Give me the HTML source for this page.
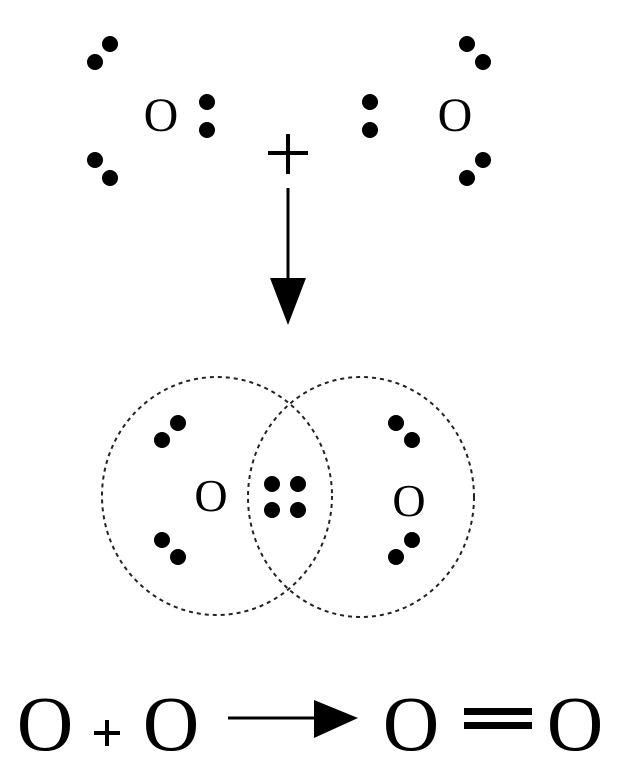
<!DOCTYPE html>
<html><head><meta charset="utf-8"><style>body{margin:0;background:#fff} text{font-family:"Liberation Serif","DejaVu Serif","Times New Roman",serif}</style></head>
<body>
<svg width="640" height="773" viewBox="0 0 640 773" xmlns="http://www.w3.org/2000/svg" fill="#000">
<g>
<circle cx="110" cy="44" r="8"/><circle cx="95" cy="62" r="8"/>
<circle cx="95" cy="160" r="8"/><circle cx="110" cy="178" r="8"/>
<circle cx="207" cy="102" r="8"/><circle cx="207" cy="130" r="8"/>
<circle cx="370" cy="102" r="8"/><circle cx="370" cy="130" r="8"/>
<circle cx="467" cy="44" r="8"/><circle cx="483" cy="62" r="8"/>
<circle cx="483" cy="160" r="8"/><circle cx="467" cy="178" r="8"/>
</g>
<text x="161" y="131" font-size="48" text-anchor="middle">O</text>
<text x="455" y="131" font-size="48" text-anchor="middle">O</text>
<rect x="268" y="151" width="40" height="4"/>
<rect x="286" y="134" width="4" height="40"/>
<line x1="288" y1="188" x2="288" y2="290" stroke="#000" stroke-width="3"/>
<polygon points="270,278 306,278 288,325"/>

<ellipse cx="217" cy="496" rx="115" ry="119" fill="none" stroke="#222" stroke-width="2" stroke-dasharray="4,4"/>
<ellipse cx="361" cy="497" rx="113" ry="120" fill="none" stroke="#222" stroke-width="2" stroke-dasharray="4,4"/>
<g>
<circle cx="178" cy="423" r="8"/><circle cx="162" cy="440" r="8"/>
<circle cx="162" cy="540" r="8"/><circle cx="178" cy="557" r="8"/>
<circle cx="272" cy="484" r="8"/><circle cx="298" cy="484" r="8"/>
<circle cx="272" cy="510" r="8"/><circle cx="298" cy="510" r="8"/>
<circle cx="396" cy="423" r="8"/><circle cx="412" cy="440" r="8"/>
<circle cx="412" cy="540" r="8"/><circle cx="396" cy="557" r="8"/>
</g>
<text x="211" y="511" font-size="46" text-anchor="middle">O</text>
<text x="409" y="516" font-size="46" text-anchor="middle">O</text>

<text x="45" y="750" font-size="78" text-anchor="middle">O</text>
<rect x="94" y="731" width="26" height="4"/>
<rect x="105" y="720" width="4" height="26"/>
<text x="171" y="750" font-size="78" text-anchor="middle">O</text>
<line x1="228" y1="718" x2="322" y2="718" stroke="#000" stroke-width="3"/>
<polygon points="314,700 358,718 314,738"/>
<text x="411" y="750" font-size="78" text-anchor="middle">O</text>
<rect x="464" y="708" width="68" height="7"/>
<rect x="464" y="722" width="68" height="7"/>
<text x="575" y="750" font-size="78" text-anchor="middle">O</text>
</svg>
</body></html>
